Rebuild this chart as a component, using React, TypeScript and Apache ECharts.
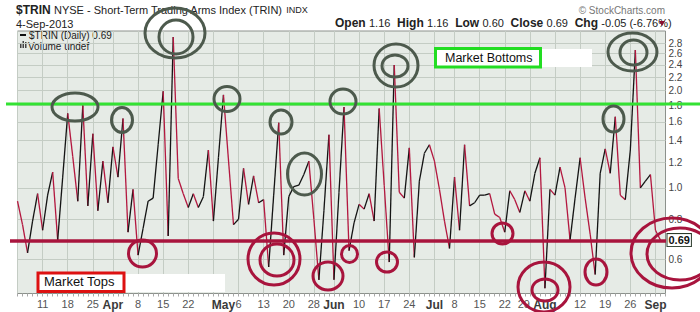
import React, { useEffect, useRef } from 'react';
import * as echarts from 'echarts';

// Trading days (Mar 4 - Sep 4, 2013)
const marDays = [4, 5, 6, 7, 8, 11, 12, 13, 14, 15, 18, 19, 20, 21, 22, 25, 26, 27, 28];
const aprDays = [1, 2, 3, 4, 5, 8, 9, 10, 11, 12, 15, 16, 17, 18, 19, 22, 23, 24, 25, 26, 29, 30];
const mayDays = [1, 2, 3, 6, 7, 8, 9, 10, 13, 14, 15, 16, 17, 20, 21, 22, 23, 24, 28, 29, 30, 31];
const junDays = [3, 4, 5, 6, 7, 10, 11, 12, 13, 14, 17, 18, 19, 20, 21, 24, 25, 26, 27, 28];
const julDays = [1, 2, 3, 5, 8, 9, 10, 11, 12, 15, 16, 17, 18, 19, 22, 23, 24, 25, 26, 29, 30, 31];
const augDays = [1, 2, 5, 6, 7, 8, 9, 12, 13, 14, 15, 16, 19, 20, 21, 22, 23, 26, 27, 28, 29, 30];
const sepDays = [3, 4];

// $TRIN daily close
const trin = [
  0.91, 0.77, 0.63, 0.79, 0.96, 0.74, 0.95, 1.12, 0.69, 1.08,
  1.70, 1.25, 0.91, 1.80, 0.88, 1.47, 0.85, 1.21, 0.90, 1.34,
  1.08, 1.64, 0.73, 0.99, 0.62, 0.75, 0.91, 0.93, 1.36, 1.99,
  0.71, 2.93, 1.07, 0.96, 0.87, 0.96, 0.87, 0.94, 1.31, 0.79,
  1.24, 1.94, 1.22, 0.77, 0.80, 1.15, 0.89, 1.09, 0.90, 0.92,
  0.57, 0.95, 1.59, 0.62, 0.94, 1.01, 1.02, 1.10, 1.21, 0.80,
  0.52, 0.85, 1.46, 0.52, 0.97, 1.78, 0.64, 0.78, 0.89, 0.86,
  0.96, 0.79, 1.76, 1.02, 0.59, 2.40, 0.97, 0.93, 1.33, 0.61,
  1.05, 1.28, 1.36, 1.21, 0.99, 0.79, 0.65, 1.08, 0.74, 1.36,
  0.88, 0.90, 0.95, 0.95, 0.96, 0.83, 0.81, 0.73, 0.98, 0.92,
  0.84, 0.98, 0.91, 1.11, 1.24, 0.49, 0.99, 0.95, 1.16, 1.00,
  0.69, 0.93, 1.24, 0.93, 0.72, 0.54, 1.11, 1.32, 1.11, 1.66,
  0.95, 0.92, 1.31, 2.67, 1.00, 1.05, 1.10, 0.74, 0.69,
];

const weekStarts = [
  'Mar 4', 'Mar 11', 'Mar 18', 'Mar 25', 'Apr 1', 'Apr 8', 'Apr 15', 'Apr 22', 'Apr 29',
  'May 6', 'May 13', 'May 20', 'May 28', 'Jun 3', 'Jun 10', 'Jun 17', 'Jun 24', 'Jul 1',
  'Jul 8', 'Jul 15', 'Jul 22', 'Jul 29', 'Aug 5', 'Aug 12', 'Aug 19', 'Aug 26', 'Sep 3',
];
const tickKeys = [
  'Mar 11', 'Mar 18', 'Mar 25', 'Apr 1', 'Apr 8', 'Apr 15', 'Apr 22', 'May 1', 'May 6',
  'May 13', 'May 20', 'May 28', 'Jun 3', 'Jun 10', 'Jun 17', 'Jun 24', 'Jul 1', 'Jul 8',
  'Jul 15', 'Jul 22', 'Jul 29', 'Aug 1', 'Aug 12', 'Aug 19', 'Aug 26', 'Sep 3',
];
const tickTexts = [
  '11', '18', '25', 'Apr', '8', '15', '22', 'May', '6',
  '13', '20', '28', 'Jun', '10', '17', '24', 'Jul', '8',
  '15', '22', '29', 'Aug', '12', '19', '26', 'Sep',
];
const monthNames = ['Apr', 'May', 'Jun', 'Jul', 'Aug', 'Sep'];
const yTicks = [0.6, 0.8, 1.0, 1.2, 1.4, 1.6, 1.8, 2.0, 2.2, 2.4, 2.6, 2.8];
const lastClose = 0.69;

const monthDays: [string, number[]][] = [
  ['Mar', marDays], ['Apr', aprDays], ['May', mayDays], ['Jun', junDays],
  ['Jul', julDays], ['Aug', augDays], ['Sep', sepDays],
];
const categories: string[] = [];
monthDays.forEach(([m, ds]) => ds.forEach((d) => categories.push(`${m} ${d}`)));
categories.push('');

const FONT = 'Liberation Sans, Arial, Helvetica, sans-serif';
const UP = '#141414';
const DOWN = '#b3173f';
const DARK_C = '#4d5a4d';
const RED_C = '#a8143d';

export default function App() {
  const ref = useRef<HTMLDivElement>(null);

  useEffect(() => {
    document.body.style.margin = '0';
    const chart = echarts.init(ref.current!, undefined, { renderer: 'svg' });

    const segData = trin.map((v, i) => [i, v, i > 0 ? trin[i - 1] : v]);
    const labelMap: Record<string, string> = {};
    tickKeys.forEach((k, i) => (labelMap[k] = tickTexts[i]));

    const ell = (cx: number, cy: number, rx: number, ry: number, color: string) => ({
      type: 'ellipse',
      shape: { cx, cy, rx, ry },
      style: { fill: 'none', stroke: color, lineWidth: 3 },
      z: 100,
      silent: true,
    });

    chart.setOption({
      animation: false,
      grid: {
        left: 17.5,
        right: 34.5,
        top: 31,
        bottom: 18.5,
        show: true,
        backgroundColor: '#e6ebe6',
        borderColor: '#8c918c',
        borderWidth: 1,
      },
      xAxis: {
        type: 'category',
        data: categories,
        boundaryGap: false,
        axisLine: { show: false },
        axisTick: { show: true, interval: 0, length: 3, lineStyle: { color: '#a8a8a8' } },
        axisLabel: {
          interval: (_i: number, v: string) => labelMap[v] !== undefined,
          formatter: (v: string) => {
            const t = labelMap[v];
            if (monthNames.includes(t)) return `{m|${t}}`;
            if (v === 'Jul 29') return `{s|${t}}`;
            return `{d|${t}}`;
          },
          margin: 5,
          rich: {
            m: { fontFamily: FONT, fontSize: 12, fontWeight: 'bold', color: '#3a3a3a' },
            d: { fontFamily: FONT, fontSize: 11, color: '#555' },
            s: { fontFamily: FONT, fontSize: 11, color: '#555', padding: [0, 12, 0, 0] },
          },
        },
        splitLine: {
          show: true,
          interval: (_i: number, v: string) => weekStarts.includes(v),
          lineStyle: { color: '#c4ccc4', width: 1 },
        },
      },
      yAxis: {
        type: 'log',
        logBase: 10,
        min: 0.4718,
        max: 3.056,
        position: 'right',
        axisLabel: { show: false },
        axisLine: { show: false },
        axisTick: { show: false },
        splitLine: { show: false },
      },
      series: [
        {
          type: 'line',
          data: trin.map(() => null),
          z: 1,
          silent: true,
          markLine: {
            silent: true,
            symbol: ['none', 'none'],
            lineStyle: { color: '#c4ccc4', width: 1, type: 'solid' },
            label: {
              show: true,
              position: 'end',
              distance: 3,
              formatter: (p: any) => Number(p.value).toFixed(1),
              fontFamily: FONT,
              fontSize: 10,
              lineHeight: 9,
              color: '#444',
            },
            data: yTicks.map((v) => ({ yAxis: v })),
          },
        },
        {
          type: 'line',
          data: trin.map(() => null),
          z: 8,
          silent: true,
          markLine: {
            silent: true,
            symbol: ['none', 'none'],
            lineStyle: { color: 'rgba(0,0,0,0)', width: 0 },
            label: {
              show: true,
              position: 'end',
              distance: 2,
              formatter: () => lastClose.toFixed(2),
              fontFamily: FONT,
              fontSize: 11,
              fontWeight: 'bold',
              color: '#111',
              backgroundColor: '#ffffff',
              borderColor: '#2a3a2a',
              borderWidth: 1,
              padding: [1, 1, 0, 1],
            },
            data: [{ yAxis: lastClose }],
          },
        },
        {
          type: 'custom',
          data: segData,
          encode: { x: 0, y: 1 },
          z: 5,
          silent: true,
          renderItem: (_params: any, api: any) => {
            const i = api.value(0);
            if (i === 0) return { type: 'group', children: [] };
            const v = api.value(1);
            const pv = api.value(2);
            const p0 = api.coord([i - 1, pv]);
            const p1 = api.coord([i, v]);
            return {
              type: 'line',
              shape: { x1: p0[0], y1: p0[1], x2: p1[0], y2: p1[1] },
              style: { stroke: v >= pv ? UP : DOWN, lineWidth: 1.3 },
            };
          },
        },
      ],
      graphic: [
        // header
        {
          type: 'text', left: 16, top: 4, silent: true,
          style: {
            text: '{b|$TRIN} {n|NYSE - Short-Term Trading Arms Index (TRIN)} {s|INDX}',
            rich: {
              b: { fontFamily: FONT, fontSize: 12, fontWeight: 'bold', fill: '#222' },
              n: { fontFamily: FONT, fontSize: 11, fill: '#222' },
              s: { fontFamily: FONT, fontSize: 9, fill: '#222' },
            },
          },
        },
        {
          type: 'text', left: 16, top: 18, silent: true,
          style: { text: '4-Sep-2013', fontFamily: FONT, fontSize: 11, fill: '#222' },
        },
        {
          type: 'text', right: 35, top: 5, silent: true,
          style: { text: '© StockCharts.com', fontFamily: FONT, fontSize: 10, fill: '#777' },
        },
        {
          type: 'text', left: 335, top: 17, silent: true,
          style: {
            text: '{b|Open} {v|1.16}  {b|High} {v|1.16}  {b|Low} {v|0.60}  {b|Close} {v|0.69}  {b|Chg} {v|-0.05 (-6.76%)}',
            rich: {
              b: { fontFamily: FONT, fontSize: 12, fontWeight: 'bold', fill: '#222' },
              v: { fontFamily: FONT, fontSize: 11, fill: '#222' },
            },
          },
        },
        {
          type: 'polygon', silent: true,
          shape: { points: [[659, 21], [665, 21], [662, 26]] },
          style: { fill: '#8b1030' },
        },
        // legend inside plot
        { type: 'rect', silent: true, shape: { x: 20, y: 34, width: 6, height: 2 }, style: { fill: '#111' } },
        {
          type: 'text', left: 29, top: 30, silent: true,
          style: { text: '$TRIN (Daily) 0.69', fontFamily: FONT, fontSize: 10, fill: '#222' },
        },
        { type: 'rect', silent: true, shape: { x: 20, y: 43, width: 1.5, height: 5 }, style: { fill: '#444' } },
        { type: 'rect', silent: true, shape: { x: 22.5, y: 41, width: 1.5, height: 7 }, style: { fill: '#444' } },
        { type: 'rect', silent: true, shape: { x: 25, y: 42, width: 1.5, height: 6 }, style: { fill: '#444' } },
        {
          type: 'text', left: 28, top: 41, silent: true,
          style: { text: 'Volume undef', fontFamily: FONT, fontSize: 10, fill: '#222' },
        },
        // hand drawn level lines
        { type: 'line', silent: true, z: 90, shape: { x1: 6, y1: 104, x2: 700, y2: 104 }, style: { stroke: '#33e233', lineWidth: 3 } },
        { type: 'line', silent: true, z: 90, shape: { x1: 10, y1: 241, x2: 666, y2: 241 }, style: { stroke: RED_C, lineWidth: 3.5 } },
        // Market Bottoms box
        { type: 'rect', silent: true, z: 95, shape: { x: 541, y: 49, width: 51, height: 18 }, style: { fill: '#fff' } },
        { type: 'rect', silent: true, z: 95, shape: { x: 435.5, y: 48.5, width: 105, height: 18.5 }, style: { fill: '#fff', stroke: '#22dd22', lineWidth: 3 } },
        {
          type: 'text', left: 445, top: 51, silent: true, z: 96,
          style: { text: 'Market Bottoms', fontFamily: FONT, fontSize: 12.5, fill: '#111' },
        },
        // Market Tops box
        { type: 'rect', silent: true, z: 95, shape: { x: 124, y: 274, width: 101, height: 18 }, style: { fill: '#fff' } },
        { type: 'rect', silent: true, z: 95, shape: { x: 38, y: 273, width: 86, height: 18.5 }, style: { fill: '#fff', stroke: '#dd1111', lineWidth: 3 } },
        {
          type: 'text', left: 44, top: 275, silent: true, z: 96,
          style: { text: 'Market Tops', fontFamily: FONT, fontSize: 13, fill: '#111' },
        },
        // dark circles (tops of TRIN)
        ell(175, 33, 30, 25, DARK_C),
        ell(176, 37, 17, 17, DARK_C),
        ell(75, 107, 23, 14, DARK_C),
        ell(122, 120, 10.5, 12.5, DARK_C),
        ell(227, 99, 13, 12.5, DARK_C),
        ell(281, 122, 11, 12, DARK_C),
        ell(304.5, 174, 17, 21, DARK_C),
        ell(343, 101.5, 13, 12.5, DARK_C),
        ell(396, 65.5, 22, 21.5, DARK_C),
        ell(395, 66, 13, 11, DARK_C),
        ell(613.5, 119, 10.5, 13, DARK_C),
        ell(632.5, 52, 24.5, 19, DARK_C),
        ell(633.5, 52.5, 13.5, 12.5, DARK_C),
        // red circles
        ell(142.5, 253.5, 14, 13.5, RED_C),
        ell(274, 259, 26, 26, RED_C),
        ell(277, 260, 17, 16, RED_C),
        ell(328, 276, 15, 14, RED_C),
        ell(349.5, 254, 8, 8.5, RED_C),
        ell(387, 262, 10.5, 10, RED_C),
        ell(502.5, 233.5, 10.5, 10.5, RED_C),
        ell(544, 287, 26, 25, RED_C),
        ell(545, 290, 13, 11, RED_C),
        ell(596, 272, 11, 13, RED_C),
        ell(672, 253, 41, 35, RED_C),
        ell(680, 254, 33, 26, RED_C),
      ],
    });

    return () => chart.dispose();
  }, []);

  return (
    <div
      ref={ref}
      style={{ position: 'fixed', left: 0, top: 0, width: 700, height: 312, background: '#fff' }}
    />
  );
}
